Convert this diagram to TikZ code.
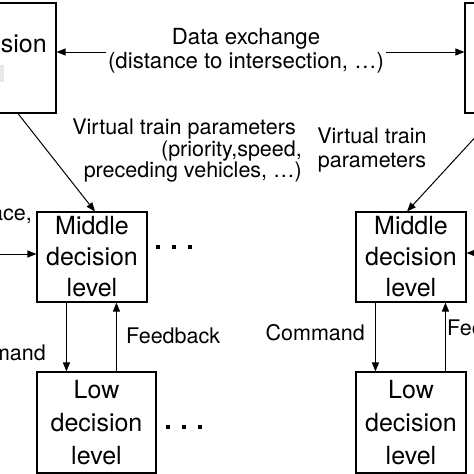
\documentclass[tikz,border=0pt]{standalone}
\usepackage{fontspec}
\setmainfont{TeX Gyre Heros}
\usetikzlibrary{arrows.meta}
\begin{document}
\begin{tikzpicture}[x=1pt,y=-1pt,
  box/.style={draw, line width=1.1pt, inner sep=0pt, align=center},
  boxtxt/.style={font=\fontsize{25}{31}\selectfont},
  lowtxt/.style={font=\fontsize{25}{33}\selectfont},
  lbl/.style={inner sep=0pt, font=\fontsize{21.5}{22}\selectfont},
  arr/.style={-{Triangle[length=9pt,width=7pt]}, line width=1pt},
  ln/.style={line width=1pt},
  dotsq/.style={fill=black}]
\useasboundingbox (0,0) rectangle (474,474);
\clip (0,0) rectangle (474,474);

% top boxes (partly outside the frame)
\node[box, minimum width=130pt, minimum height=110pt] (hl) at (-9,58) {};
\node[lbl, font=\fontsize{25}{31}\selectfont, anchor=base east] (hltxt) at (47,52) {sion};
\fill[gray!18] (0,65) rectangle (4,82);
\node[box, minimum width=130pt, minimum height=110pt] (hr) at (530,58) {};

% data exchange
\node[lbl, align=center, font=\fontsize{22.2}{23.5}\selectfont] (dx) at (246,51) {Data exchange\\(distance to intersection, …)};
\coordinate (dxl) at (106,52);
\coordinate (dxr) at (386,52);
\draw[arr] (dxl) -- (dxl -| hl.east);
\draw[arr] (dxr) -- (dxr -| hr.west);

% virtual train parameter labels
\node[lbl, align=right, anchor=east, font=\fontsize{21.5}{21.5}\selectfont] (vtl) at (302,151)
  {Virtual train parameters\hspace*{6pt}\\(priority,speed,\\preceding vehicles, …)};
\node[lbl, align=center, font=\fontsize{21.5}{24}\selectfont] (vtr) at (372,150) {Virtual train\\parameters};

% middle boxes
\node[box, boxtxt, minimum width=110pt, minimum height=90pt] (mid1) at (92,257) {Middle\\decision\\level};
\node[box, boxtxt, minimum width=110pt, minimum height=90pt] (mid2) at (411,257) {Middle\\decision\\level};

% low boxes
\node[box, lowtxt, minimum width=119pt, minimum height=101pt] (low1) at (96.5,422.5) {Low\\decision\\level};
\node[box, lowtxt, minimum width=110pt, minimum height=101pt] (low2) at (411,422.5) {Low\\decision\\level};

% diagonal arrows
\draw[arr] ([xshift=27pt]hl.south) -- ([xshift=3pt]mid1.north);
\draw[arr] ([xshift=-33pt]hr.south) -- ([xshift=-4pt]mid2.north);

% side inputs to middle boxes
\coordinate (inl) at (-5,254);
\coordinate (inr) at (480,253);
\draw[arr] (inl) -- (inl -| mid1.west);
\draw[arr] (inr) -- (inr -| mid2.east);
\node[lbl, anchor=base east] (acel) at (32,220) {ace,};

% command / feedback left
\draw[arr] ([xshift=30pt]mid1.south west) -- ([xshift=30pt]low1.north west);
\draw[arr] ([xshift=80pt]low1.north west) -- ([xshift=80pt]mid1.south west);
\node[lbl, anchor=base east] (cmdl) at (46,360) {Command};
\node[lbl, anchor=base west] (fbl) at (126,343) {Feedback};

% command / feedback right
\draw[arr] ([xshift=20pt]mid2.south west) -- ([xshift=20pt]low2.north west);
\draw[arr] ([xshift=90pt]low2.north west) -- ([xshift=90pt]mid2.south west);
\node[lbl, anchor=base east] (cmdr) at (365,340) {Command};
\node[lbl, anchor=base west] (fbr) at (447,335) {Feedback};

% ellipsis dots
\foreach \x in {158,174,190} \fill[dotsq] (\x-2,245) rectangle (\x+2,249);
\foreach \x in {168,184,200} \fill[dotsq] (\x-2,425) rectangle (\x+2,429);
\end{tikzpicture}
\end{document}
